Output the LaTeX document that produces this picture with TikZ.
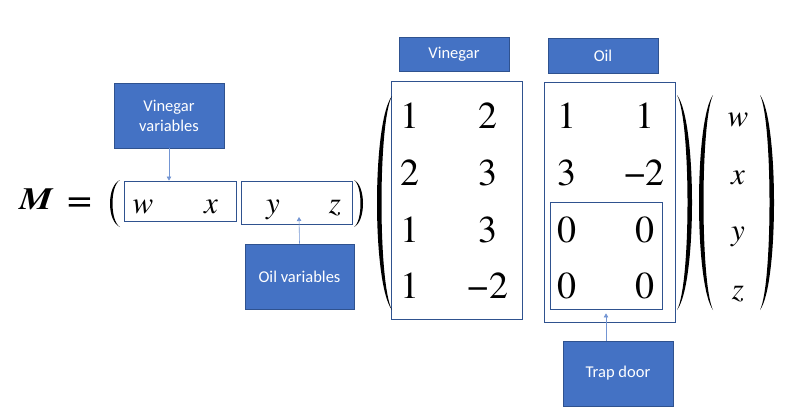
\documentclass[tikz,border=0pt]{standalone}
\usepackage{fontspec}
\setmainfont{Liberation Serif}
\newfontfamily\eqfont{TeX Gyre Termes}
\newfontfamily\lblfont{Carlito}
\usepackage{tikz}
\usetikzlibrary{arrows.meta}
\definecolor{boxblue}{HTML}{4472C4}
\definecolor{edgeblue}{HTML}{2F528F}
\newcommand\drawparen[5]{%
  \fill ({#1},{#3}) .. controls ({#1+(#2-#1)/0.75},{#3+0.12*(#4-#3)}) and ({#1+(#2-#1)/0.75},{#4-0.12*(#4-#3)}) .. ({#1},{#4})
    .. controls ({#1+(#2-#1+#5)/0.75},{#4-0.12*(#4-#3)}) and ({#1+(#2-#1+#5)/0.75},{#3+0.12*(#4-#3)}) .. cycle;}

\begin{document}
\begin{tikzpicture}[x=1pt,y=-1pt,
    labelbox/.style={fill=boxblue, draw=edgeblue, line width=0.6pt, text=white, align=center, inner sep=0pt,
      font=\lblfont\fontsize{16.5}{20}\selectfont},
    frame/.style={draw=edgeblue, line width=0.8pt, inner sep=0pt},
    ent/.style={anchor=base, inner sep=0pt, font=\eqfont\fontsize{38}{40}\selectfont},
    var/.style={anchor=base, inner sep=0pt, font=\eqfont\fontsize{31}{33}\selectfont\itshape},
    pointer/.style={draw=boxblue!75, line width=0.6pt, -{Triangle[length=4pt,width=4.5pt]}}]
  \useasboundingbox (0,0) rectangle (800,418);
  \node[labelbox, minimum width=110pt, minimum height=65pt] (vv) at (169,115.5) {Vinegar\\variables};
  \node[labelbox, minimum width=109pt, minimum height=65pt] (ov) at (299.5,276.5) {Oil variables};
  \node[labelbox, minimum width=110pt, minimum height=34pt] (vl) at (454,54) {Vinegar};
  \node[labelbox, minimum width=110pt, minimum height=35pt] (ol) at (603,55.5) {Oil};
  \node[labelbox, minimum width=110pt, minimum height=65pt] (td) at (618,373.5) {Trap door};
  \node[frame, minimum width=112pt, minimum height=40pt] (wx) at (180,201) {};
  \node[frame, minimum width=111pt, minimum height=43pt] (yz) at (296.5,202.5) {};
  \node[frame, minimum width=131pt, minimum height=238pt] (vm) at (456.5,200) {};
  \node[frame, minimum width=131pt, minimum height=240pt] (om) at (609.5,202) {};
  \node[frame, minimum width=112pt, minimum height=107pt] (trap) at (606,255.5) {};
  \node[anchor=base, inner sep=0pt, xscale=1.2, font=\eqfont\fontsize{31}{33}\selectfont\bfseries\itshape] (M) at (36,209) {M};
  \node[anchor=base, inner sep=0pt, xscale=1.1, font=\eqfont\fontsize{40}{42}\selectfont] (eq) at (80,212) {=};
  \foreach \v/\x in {w/143, x/211, y/273, z/335}
    \node[var] (row-\v) at (\x,213) {\v};
  \foreach \v/\y in {w/126, x/184, y/240, z/299}
    \node[var] (col-\v) at (738,\y) {\v};
  \foreach \y/\a/\b/\c/\d [count=\i] in {128/1/2/1/1, 185/2/3/3/−2, 242/1/3/0/0, 298/1/−2/0/0} {
    \node[ent] (v-\i-1) at (409.5,\y) {\a};
    \node[ent] (v-\i-2) at (488,\y) {\b};
    \node[ent] (o-\i-1) at (566.5,\y) {\c};
    \node[ent] (o-\i-2) at (644.5,\y) {\d};
  }
  \drawparen{120}{110}{180}{227}{2.5}
  \drawparen{354}{363}{180}{227}{-2.5}
  \drawparen{392}{377}{96}{310}{4.5}
  \drawparen{677}{692}{95}{310}{-4.5}
  \drawparen{713}{699}{95}{310}{4.5}
  \drawparen{760}{774}{95}{310}{-4.5}
  \coordinate (oilpt) at (299,217);
  \draw[pointer] (vv.south) -- (vv.south |- wx.north);
  \draw[pointer] (ov.north) -- (oilpt);
  \draw[pointer] (td.north -| trap.south) -- ([yshift=-4pt]trap.south);
\end{tikzpicture}
\end{document}
